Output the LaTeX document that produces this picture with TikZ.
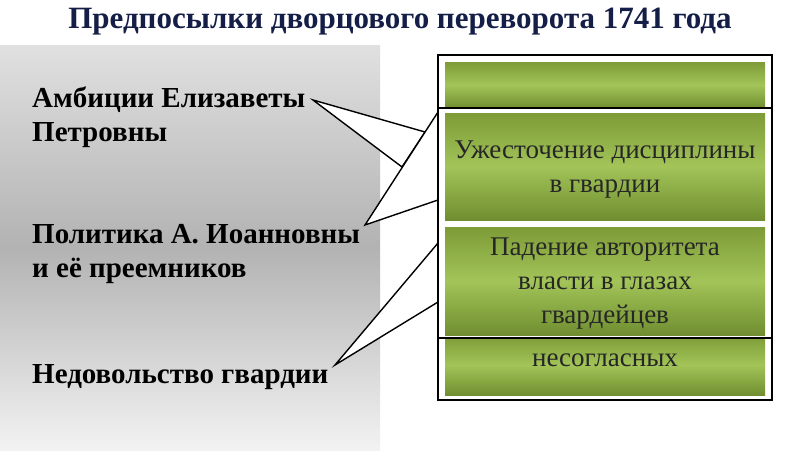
\documentclass[tikz,border=0pt]{standalone}
\usepackage{fontspec}
\setmainfont{Liberation Serif}
\definecolor{gtop}{RGB}{125,155,55}
\definecolor{gmid}{RGB}{162,196,88}
\definecolor{gbot}{RGB}{112,142,48}
\begin{document}
\begin{tikzpicture}[x=1pt,y=-1pt,
  lefttxt/.style={anchor=west,align=left,font=\fontsize{29}{34}\selectfont\bfseries,inner sep=0},
  greenbox/.style={top color=gtop,bottom color=gbot,middle color=gmid,draw=none},
  boxtxt/.style={align=center,font=\fontsize{27}{34}\selectfont,text=black!85,inner sep=0},
  frame/.style={draw=black,line width=1.8pt,fill=white},
  callout/.style={draw=black,line width=1.4pt,fill=white,line join=miter}]
\useasboundingbox (0,0) rectangle (800,450);
\fill[white] (0,0) rectangle (800,450);
\shade[top color=black!12,bottom color=black!5,middle color=black!30] (0,45) rectangle (380,450);
\node[font=\fontsize{31}{36}\selectfont\bfseries,text={rgb,255:red,20;green,30;blue,70}] (title) at (400,22) {Предпосылки дворцового переворота 1741 года};
\node[lefttxt] (t1) at (32,117) {Амбиции Елизаветы\\Петровны};
\node[lefttxt] (t2) at (32,254) {Политика А. Иоанновны\\и её преемников};
\node[lefttxt] (t3) at (32,377) {Недовольство гвардии};
\coordinate (c1) at (313,100);
\coordinate (c2) at (365,225);
\coordinate (c3) at (335,365);
\draw[frame] (438,55) rectangle (772,400);
\shade[greenbox] (445,62) rectangle (765,108);
\shade[greenbox] (445,335) rectangle (765,395);
\node[boxtxt] (b4) at (605,360) {несогласных};
\draw[callout] (c1) -- (425,132) -- (402,167) -- cycle;
\draw[callout] (c2) -- (438,112) -- (438,200) -- cycle;
\draw[callout] (c3) -- (438,243) -- (438,302) -- cycle;
\draw[frame] (438,108) rectangle (772,338);
\shade[greenbox] (445,113) rectangle (765,220);
\shade[greenbox] (445,227) rectangle (765,335);
\node[boxtxt] (b2) at (605,170) {Ужесточение дисциплины\\в гвардии};
\node[boxtxt] (b3) at (605,284) {Падение авторитета\\власти в глазах\\гвардейцев};
\end{tikzpicture}
\end{document}
